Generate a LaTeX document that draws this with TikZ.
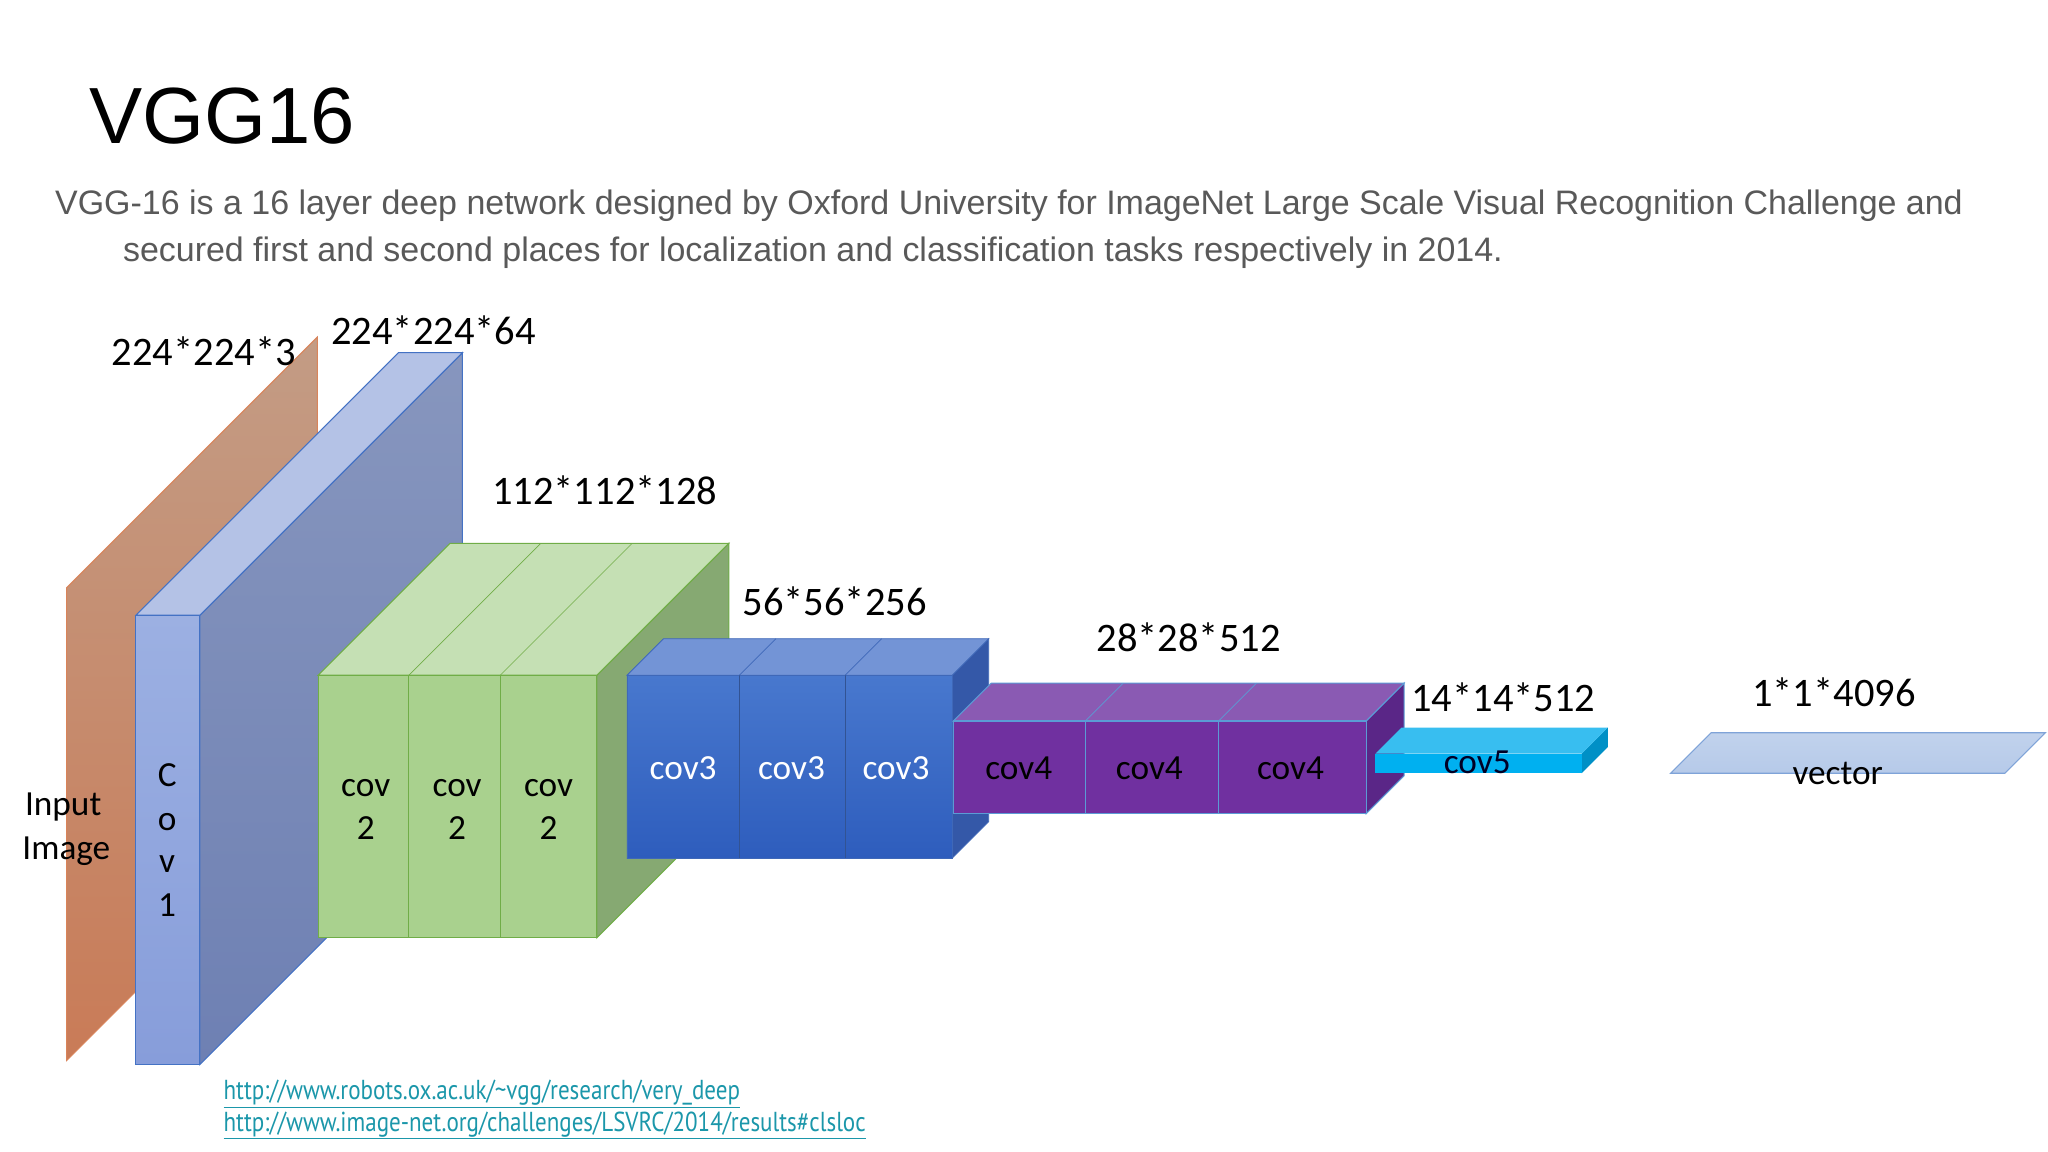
\documentclass[tikz,border=0pt]{standalone}
\usepackage{fontspec}
\setmainfont{Liberation Sans}
\newfontfamily\calib{Carlito}
\newfontfamily\linkfont[FakeStretch=0.84]{PT Sans}
\definecolor{orangeT}{HTML}{C39C85}
\definecolor{orangeB}{HTML}{C97B57}
\definecolor{orangeL}{HTML}{D9845A}
\definecolor{cafrontT}{HTML}{9CB0E2}
\definecolor{cafrontB}{HTML}{879DDA}
\definecolor{catop}{HTML}{B4C2E6}
\definecolor{casideT}{HTML}{8796BE}
\definecolor{casideB}{HTML}{6E80B3}
\definecolor{caline}{HTML}{4472C4}
\definecolor{gfront}{HTML}{A9D18E}
\definecolor{gtop}{HTML}{C5E0B4}
\definecolor{gside}{HTML}{86A972}
\definecolor{gline}{HTML}{70AD47}
\definecolor{bfrontT}{HTML}{4878CE}
\definecolor{bfrontB}{HTML}{2E5DBD}
\definecolor{btop}{HTML}{7394D6}
\definecolor{bside}{HTML}{3458A8}
\definecolor{bline}{HTML}{3F68B8}
\definecolor{pfront}{HTML}{7030A0}
\definecolor{ptop}{HTML}{8A5AB3}
\definecolor{pside}{HTML}{5A2687}
\definecolor{pline}{HTML}{5B9BD5}
\definecolor{cfront}{HTML}{00B0F0}
\definecolor{ctop}{HTML}{38BEF0}
\definecolor{cside}{HTML}{0090C6}
\definecolor{vfill}{HTML}{B6CAE9}
\definecolor{vline}{HTML}{7FA3D8}
\definecolor{paragray}{HTML}{595959}
\definecolor{linkteal}{HTML}{1B97AA}
\tikzset{
  dimlabel/.style={anchor=base, inner sep=0pt, font=\calib\fontsize{31}{36}\selectfont, text=black},
  blocklabel/.style={anchor=base, inner sep=0pt, font=\calib\fontsize{27}{32}\selectfont},
  linktext/.style={anchor=base west, inner sep=0pt, font=\linkfont\fontsize{21}{24}\selectfont, text=linkteal},
}
\begin{document}
\begin{tikzpicture}[x=1pt,y=-1pt]
\useasboundingbox[fill=white] (0,0) rectangle (1568,882);

% title and description
\node[anchor=base west, inner sep=0pt, font=\fontsize{61}{70}\selectfont] (title) at (68,110) {VGG16};
\node[anchor=base west, inner sep=0pt, font=\fontsize{26}{30}\selectfont, text=paragray] (para1) at (42,164) {VGG-16 is a 16 layer deep network designed by Oxford University for ImageNet Large Scale Visual Recognition Challenge and};
\node[anchor=base west, inner sep=0pt, font=\fontsize{26}{30}\selectfont, text=paragray] (para2) at (94,200) {secured first and second places for localization and classification tasks respectively in 2014.};

% input image plane
\path[top color=orangeT, bottom color=orangeB, draw=orangeL, line width=0.7pt]
  (51,450) -- (243,258) -- (243,620) -- (51,812) -- cycle;

% cov1 block
\path[top color=casideT, bottom color=casideB, draw=caline, line width=0.8pt] (153,471) -- (354,270) -- (354,614) -- (153,815) -- cycle;
\path[fill=catop, draw=caline, line width=0.8pt] (104,471) -- (305,270) -- (354,270) -- (153,471) -- cycle;
\path[top color=cafrontT, bottom color=cafrontB, draw=caline, line width=0.8pt] (104,471) rectangle (153,815);

% cov2 block
\path[fill=gside, draw=gline, line width=0.8pt] (457,517) -- (558,416) -- (558,617) -- (457,718) -- cycle;
\path[fill=gtop, draw=gline, line width=0.8pt] (243.5,517) -- (344.5,416) -- (558,416) -- (457,517) -- cycle;
\path[fill=gfront, draw=gline, line width=0.8pt] (243.5,517) rectangle (457,718);
\draw[gline, line width=0.8pt] (313,517) -- (313,718) (383,517) -- (383,718);
\draw[gline, line width=0.5pt] (313,517) -- (414,416) (383,517) -- (484,416);

% cov3 block
\path[fill=bside, draw=bline, line width=0.6pt] (729,517) -- (757,489) -- (757,629) -- (729,657) -- cycle;
\path[fill=btop, draw=bline, line width=0.6pt] (480,517) -- (508,489) -- (757,489) -- (729,517) -- cycle;
\path[top color=bfrontT, bottom color=bfrontB, draw=bline, line width=0.6pt] (480,517) rectangle (729,657);
\draw[bline!80!black, line width=0.8pt] (566,517) -- (566,657) (647,517) -- (647,657);
\draw[bline, line width=0.5pt] (566,517) -- (594,489) (647,517) -- (675,489);

% cov4 block
\path[fill=pside, draw=pline, line width=0.8pt] (1046,552) -- (1075,523) -- (1075,594) -- (1046,623) -- cycle;
\path[fill=ptop, draw=pline, line width=0.8pt] (730,552) -- (759,523) -- (1075,523) -- (1046,552) -- cycle;
\path[fill=pfront, draw=pline, line width=0.8pt] (730,552) rectangle (1046,623);
\draw[pline, line width=0.8pt] (831,552) -- (831,623) (933,552) -- (933,623);
\draw[pline, line width=0.5pt] (831,552) -- (860,523) (933,552) -- (962,523);

% cov5 slab
\path[fill=cside] (1211,577) -- (1231,557) -- (1231,572) -- (1211,592) -- cycle;
\path[fill=ctop] (1053,577) -- (1073,557) -- (1231,557) -- (1211,577) -- cycle;
\path[fill=cfront] (1053,577) rectangle (1211,592);

% vector
\path[top color=vfill!85!white, bottom color=vfill, draw=vline, line width=0.8pt]
  (1279,592) -- (1310,561) -- (1566,561) -- (1535,592) -- cycle;

% dimension labels
\node[dimlabel] (d1) at (156,280) {224*224*3};
\node[dimlabel] (d2) at (332,264) {224*224*64};
\node[dimlabel] (d3) at (463,386) {112*112*128};
\node[dimlabel] (d4) at (639,471) {56*56*256};
\node[dimlabel] (d5) at (910,499) {28*28*512};
\node[dimlabel] (d6) at (1151,545) {14*14*512};
\node[dimlabel] (d7) at (1404,541) {1*1*4096};

% block labels
\node[blocklabel, anchor=base west] (in1) at (19,624) {Input};
\node[blocklabel, anchor=base west] (in2) at (17,658) {Image};
\node[blocklabel] (v1) at (128,602) {C};
\node[blocklabel] (v2) at (128,636) {o};
\node[blocklabel] (v3) at (128,668) {v};
\node[blocklabel] (v4) at (128,702) {1};
\foreach \x/\n in {280/a,350/b,420/c}{
  \node[blocklabel] (c2\n) at (\x,609.5) {cov};
  \node[blocklabel] (n2\n) at (\x,643) {2};
}
\foreach \x/\n in {523/a,606/b,686/c}
  \node[blocklabel, text=white] (c3\n) at (\x,597) {cov3};
\foreach \x/\n in {780/a,880/b,988/c}
  \node[blocklabel, text=black] (c4\n) at (\x,597) {cov4};
\node[blocklabel, text=black!85!blue] (c5) at (1131,592.5) {cov5};
\node[blocklabel, text=black] (vec) at (1407,601) {vector};

% links
\node[linktext] (link1) at (171,842) {\underline{http://www.robots.ox.ac.uk/\textasciitilde vgg/research/very\_deep}};
\node[linktext] (link2) at (171,866) {\underline{http://www.image-net.org/challenges/LSVRC/2014/results\#clsloc}};
\end{tikzpicture}
\end{document}
